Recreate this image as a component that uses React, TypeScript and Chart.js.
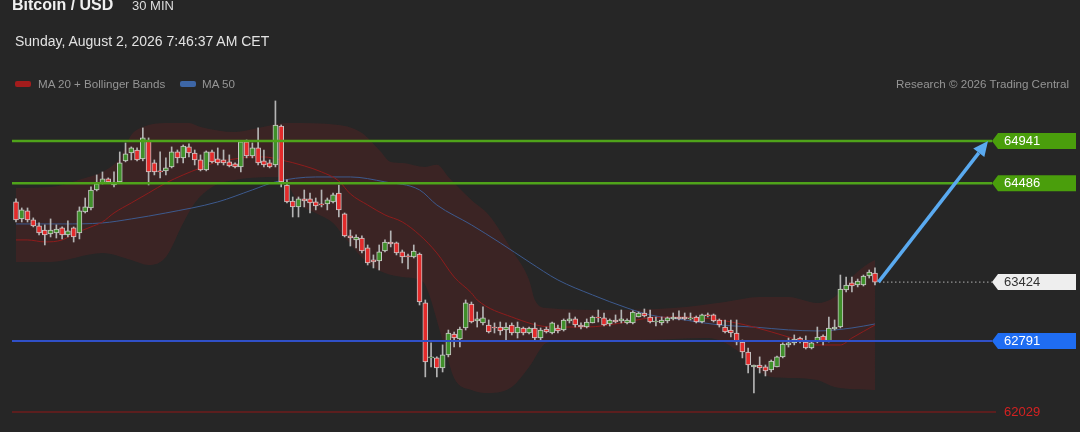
import React, { useEffect, useRef } from "react";
import { Chart, registerables } from "chart.js";

Chart.register(...registerables);

// ---------- DATA ----------
const OPEN = [
  64286, 64103, 64189, 64092, 64028, 63984, 63942, 63952, 64006, 63931,
  64006, 63952, 64178, 64221, 64414, 64490, 64533, 64468, 64500, 64727,
  64812, 64844, 64748, 64941, 64705, 64619, 64619, 64662, 64823, 64759,
  64877, 64812, 64737, 64629, 64823, 64748, 64737, 64716, 64694, 64662,
  64931, 64780, 64866, 64727, 64705, 64683, 65102, 64468, 64296, 64232,
  64318, 64318, 64286, 64264, 64264, 64286, 64382, 64157, 63920, 63877,
  63898, 63791, 63662, 63651, 63758, 63855, 63845, 63748, 63705, 63694,
  63726, 63200, 62609, 62609, 62501, 62641, 62866, 62812, 62931, 63189,
  63006, 62985, 62963, 62941, 62941, 62909, 62963, 62877, 62931, 62877,
  62931, 62823, 62920, 62877, 62931, 62909, 63006, 63028, 62963, 62941,
  62985, 63049, 63039, 62974, 63017, 63006, 62985, 62985, 63049, 63092,
  63049, 62995, 62985, 63006, 63028, 63049, 63049, 63028, 63049, 62995,
  63071, 63071, 63017, 62941, 62909, 62877, 62780, 62673, 62512, 62533,
  62512, 62479, 62512, 62620, 62749, 62771, 62823, 62780, 62716, 62780,
  62845, 62791, 62920, 62941, 63339, 63415, 63393, 63393, 63490, 63522,
];
const HIGH = [
  64318, 64221, 64221, 64114, 64060, 64039, 64103, 64039, 64017, 64082,
  64017, 64232, 64328, 64447, 64576, 64608, 64544, 64608, 64823, 64920,
  64877, 64866, 65081, 64974, 64737, 64823, 64759, 64877, 64844, 64898,
  64909, 64844, 64791, 64834, 64844, 64866, 64844, 64791, 64705, 64941,
  64952, 64920, 65081, 64844, 64737, 65371, 65113, 64522, 64339, 64339,
  64414, 64382, 64328, 64414, 64328, 64382, 64468, 64167, 63984, 63931,
  63920, 63823, 63716, 63823, 63877, 63974, 63855, 63769, 63726, 63823,
  63737, 63232, 62771, 62620, 62749, 62909, 62888, 62941, 63232, 63210,
  63103, 63157, 63017, 62985, 62995, 62985, 62985, 62995, 62941, 62941,
  62985, 62931, 62941, 62995, 62963, 63028, 63092, 63049, 62985, 63028,
  63060, 63124, 63092, 63028, 63071, 63124, 63028, 63114, 63103, 63135,
  63124, 63049, 63049, 63049, 63092, 63114, 63092, 63092, 63060, 63081,
  63092, 63081, 63028, 63017, 63017, 63017, 62802, 62716, 62533, 62620,
  62533, 62587, 62630, 62771, 62823, 62856, 62834, 62845, 62780, 62941,
  62856, 63049, 63017, 63500, 63479, 63479, 63457, 63500, 63554, 63576,
];
const LOW = [
  64070, 64070, 64070, 64017, 63931, 63823, 63909, 63898, 63888, 63909,
  63855, 63888, 64167, 64200, 64404, 64479, 64490, 64447, 64490, 64716,
  64737, 64727, 64727, 64468, 64576, 64544, 64576, 64651, 64705, 64705,
  64769, 64683, 64619, 64619, 64705, 64683, 64683, 64662, 64651, 64608,
  64759, 64759, 64683, 64662, 64651, 64662, 64447, 64275, 64124, 64124,
  64232, 64167, 64200, 64232, 64200, 64275, 64124, 63909, 63812, 63791,
  63737, 63608, 63576, 63554, 63748, 63802, 63716, 63630, 63565, 63683,
  63178, 62405, 62512, 62405, 62458, 62620, 62726, 62726, 62909, 62985,
  62941, 62963, 62877, 62877, 62856, 62802, 62856, 62823, 62856, 62866,
  62802, 62802, 62877, 62866, 62877, 62898, 62985, 62941, 62920, 62931,
  62985, 62995, 62952, 62952, 62985, 62985, 62974, 62974, 63049, 63049,
  62985, 62952, 62963, 62985, 63017, 63017, 63017, 63017, 62985, 62985,
  63049, 62995, 62941, 62877, 62834, 62749, 62609, 62447, 62232, 62447,
  62415, 62458, 62512, 62609, 62726, 62749, 62771, 62705, 62705, 62771,
  62749, 62780, 62909, 62931, 63318, 63318, 63372, 63382, 63468, 63393,
];
const CLOSE = [
  64092, 64200, 64092, 64028, 63952, 63931, 63984, 63995, 63931, 63974,
  63909, 64189, 64232, 64414, 64479, 64533, 64500, 64500, 64705, 64802,
  64866, 64737, 64974, 64608, 64608, 64608, 64651, 64823, 64759, 64887,
  64812, 64737, 64629, 64823, 64716, 64705, 64705, 64672, 64662, 64931,
  64780, 64866, 64705, 64683, 64662, 65113, 64500, 64286, 64232, 64318,
  64296, 64275, 64243, 64254, 64307, 64361, 64200, 63920, 63898, 63909,
  63758, 63630, 63641, 63748, 63855, 63834, 63737, 63694, 63694, 63758,
  63210, 62566, 62620, 62501, 62641, 62877, 62823, 62920, 63200, 62995,
  63028, 63039, 62888, 62931, 62898, 62941, 62877, 62941, 62877, 62931,
  62823, 62909, 62888, 62985, 62898, 63017, 63028, 62963, 62941, 62995,
  63049, 63039, 62963, 63017, 62995, 63028, 63017, 63103, 63092, 63060,
  62995, 63006, 63017, 63039, 63049, 63028, 63028, 63039, 62995, 63071,
  63060, 63006, 62963, 62888, 62877, 62780, 62673, 62533, 62533, 62501,
  62469, 62576, 62620, 62759, 62771, 62812, 62791, 62716, 62771, 62834,
  62791, 62931, 62941, 63350, 63393, 63382, 63436, 63490, 63533, 63424,
];

// [candle index, price]
const MA20 = [
  [0, 63877], [2, 63877], [5, 63856], [8, 63877], [10, 63942], [13, 64017],
  [15, 64071], [17, 64167], [20, 64275], [23, 64382], [26, 64490], [29, 64576],
  [32, 64651], [35, 64716], [38, 64748], [41, 64769], [43, 64769], [46, 64737],
  [50, 64673], [53, 64608], [56, 64511], [58, 64372], [61, 64253], [64, 64146],
  [67, 64071], [70, 63931], [73, 63737], [76, 63479], [79, 63307], [80, 63232],
  [86, 63049], [93, 62941], [99, 62941], [105, 62985], [110, 63039], [116, 63049],
  [122, 63017], [128, 62941], [134, 62834], [139, 62748], [143, 62748], [145, 62823],
  [149, 62963],
];
const MA50 = [
  [0, 64049], [8, 64049], [15, 64060], [20, 64103], [26, 64167], [35, 64286],
  [41, 64415], [45, 64501], [52, 64554], [58, 64554], [64, 64501], [70, 64415],
  [73, 64253], [79, 64039], [84, 63845], [89, 63641], [94, 63447], [100, 63286],
  [106, 63146], [110, 63071], [116, 63017], [122, 62963], [128, 62941], [134, 62910],
  [139, 62899], [145, 62931], [149, 62974],
];
const BB_UPPER = [
  [0, 64436], [6, 64447], [12, 64544], [15, 64608], [18, 64759], [20, 65006],
  [22, 65092], [26, 65135], [30, 65135], [32, 65092], [38, 65038], [42, 65081],
  [47, 65135], [56, 65113], [60, 65027], [63, 64844], [65, 64716], [67, 64705],
  [71, 64662], [73, 64684], [75, 64554], [79, 64307], [82, 64146], [86, 63770],
  [89, 63447], [90, 63232], [92, 63146], [103, 63124], [114, 63146], [123, 63211],
  [129, 63264], [134, 63264], [139, 63200], [142, 63264], [145, 63479], [148, 63630],
  [149, 63662],
];
const BB_LOWER = [
  [0, 63641], [6, 63641], [15, 63737], [20, 63662], [23, 63608], [26, 63694],
  [29, 64060], [31, 64275], [34, 64447], [38, 64522], [44, 64554], [46, 64554],
  [47, 64490], [49, 64275], [52, 64167], [55, 64060], [57, 63909], [61, 63630],
  [64, 63522], [67, 63479], [70, 63447], [71, 63393], [74, 62802], [76, 62394],
  [79, 62265], [82, 62232], [86, 62297], [89, 62512], [92, 62770], [96, 62802],
  [108, 62802], [120, 62824], [125, 62694], [128, 62512], [131, 62404], [134, 62394],
  [139, 62372], [142, 62297], [149, 62264],
];

const RESISTANCE_LEVELS = [64941, 64486];
const LAST_PRICE = 63424;
const SUPPORT_LEVEL = 62791;
const LOW_LEVEL = 62029;
const ARROW_TARGET = 64941;

const TITLE = "Bitcoin / USD";
const TIMEFRAME = "30 MIN";
const DATE_TEXT = "Sunday, August 2, 2026 7:46:37 AM CET";
const LEGEND_MA20 = "MA 20 + Bollinger Bands";
const LEGEND_MA50 = "MA 50";
const CREDIT = "Research © 2026 Trading Central";

// ---------- STYLE ----------
const BG = "#262626";
const UP = "#3f8f2a";
const DOWN = "#e32b2b";
const FONT = '"Liberation Sans", Arial, sans-serif';

const toPts = (arr: number[][]) => arr.map(([x, y]) => ({ x, y }));

function drawTag(ctx: CanvasRenderingContext2D, tipX: number, yc: number, right: number, fill: string, textColor: string, text: string) {
  const h = 8;
  ctx.beginPath();
  ctx.moveTo(tipX, yc);
  ctx.lineTo(tipX + 6, yc - h);
  ctx.lineTo(right, yc - h);
  ctx.lineTo(right, yc + h);
  ctx.lineTo(tipX + 6, yc + h);
  ctx.closePath();
  ctx.fillStyle = fill;
  ctx.fill();
  ctx.fillStyle = textColor;
  ctx.font = `13px ${FONT}`;
  ctx.textBaseline = "middle";
  ctx.textAlign = "left";
  ctx.fillText(text, tipX + 12, yc + 0.5);
}

const overlayPlugin = {
  id: "overlay",
  afterDatasetsDraw(chart: any) {
    const { ctx, chartArea, scales } = chart;
    const xs = scales.x;
    const ys = scales.y;
    const left = chartArea.left;
    const right = chartArea.right;
    const tagRight = right + 84;
    ctx.save();

    // low level line (dark red)
    let yv = ys.getPixelForValue(LOW_LEVEL);
    ctx.strokeStyle = "#6e1d1d";
    ctx.lineWidth = 1.5;
    ctx.beginPath();
    ctx.moveTo(left, yv);
    ctx.lineTo(right + 4, yv);
    ctx.stroke();
    ctx.fillStyle = "#d42222";
    ctx.font = `13px ${FONT}`;
    ctx.textBaseline = "middle";
    ctx.fillText(String(LOW_LEVEL), right + 12, yv + 0.5);

    // support (blue)
    yv = ys.getPixelForValue(SUPPORT_LEVEL);
    ctx.strokeStyle = "#3050c8";
    ctx.lineWidth = 2;
    ctx.beginPath();
    ctx.moveTo(left, yv);
    ctx.lineTo(right, yv);
    ctx.stroke();
    drawTag(ctx, right, yv, tagRight, "#1f6df2", "#ffffff", String(SUPPORT_LEVEL));

    // resistances (green)
    RESISTANCE_LEVELS.forEach((lv) => {
      const yy = ys.getPixelForValue(lv);
      ctx.strokeStyle = "#4fa31a";
      ctx.lineWidth = 2.5;
      ctx.beginPath();
      ctx.moveTo(left, yy);
      ctx.lineTo(right, yy);
      ctx.stroke();
      drawTag(ctx, right, yy, tagRight, "#4a9e0c", "#ffffff", String(lv));
    });

    // last price dotted line
    const lastIdx = CLOSE.length - 1;
    yv = ys.getPixelForValue(LAST_PRICE);
    const xStart = xs.getPixelForValue(lastIdx + 0.7);
    ctx.strokeStyle = "#b0b0b0";
    ctx.lineWidth = 1;
    ctx.setLineDash([1.5, 2.5]);
    ctx.beginPath();
    ctx.moveTo(xStart, yv);
    ctx.lineTo(right, yv);
    ctx.stroke();
    ctx.setLineDash([]);
    drawTag(ctx, right, yv, tagRight, "#eeeeee", "#333333", String(LAST_PRICE));

    // arrow
    const ax0 = xs.getPixelForValue(lastIdx + 0.6);
    const ay0 = ys.getPixelForValue(LAST_PRICE);
    const ax1 = right - 4;
    const ay1 = ys.getPixelForValue(ARROW_TARGET);
    const ang = Math.atan2(ay1 - ay0, ax1 - ax0);
    const headLen = 15;
    const headW = 7;
    const bx = ax1 - headLen * Math.cos(ang);
    const by = ay1 - headLen * Math.sin(ang);
    ctx.strokeStyle = "#5aaaf0";
    ctx.fillStyle = "#5aaaf0";
    ctx.lineWidth = 3.5;
    ctx.beginPath();
    ctx.moveTo(ax0, ay0);
    ctx.lineTo(bx, by);
    ctx.stroke();
    ctx.beginPath();
    ctx.moveTo(ax1, ay1);
    ctx.lineTo(bx + headW * Math.sin(ang), by - headW * Math.cos(ang));
    ctx.lineTo(bx - headW * Math.sin(ang), by + headW * Math.cos(ang));
    ctx.closePath();
    ctx.fill();

    ctx.restore();
  },
};

export default function App() {
  const canvasRef = useRef<HTMLCanvasElement | null>(null);

  useEffect(() => {
    const canvas = canvasRef.current;
    if (!canvas) return;
    const n = CLOSE.length;
    const idx = Array.from({ length: n }, (_, i) => i);
    const colors = idx.map((i) => (CLOSE[i] < OPEN[i] ? DOWN : UP));
    const bodies = idx.map((i) => ({ x: i, y: [OPEN[i], CLOSE[i]] }));
    const wicks = idx.map((i) => ({ x: i, y: [LOW[i], HIGH[i]] }));

    const chart = new Chart(canvas, {
      type: "bar",
      data: {
        datasets: [
          {
            type: "bar",
            data: bodies as any,
            backgroundColor: colors,
            borderColor: "rgba(215,215,215,0.9)",
            borderWidth: 1,
            borderSkipped: false,
            barThickness: 5,
            grouped: false,
            order: 1,
          } as any,
          {
            type: "bar",
            data: wicks as any,
            backgroundColor: "#b4b4b4",
            borderWidth: 0,
            barThickness: 1,
            grouped: false,
            order: 2,
          } as any,
          {
            type: "line",
            data: toPts(MA20) as any,
            borderColor: "#8e1c1c",
            borderWidth: 1,
            pointRadius: 0,
            cubicInterpolationMode: "monotone",
            fill: false,
            order: 3,
          } as any,
          {
            type: "line",
            data: toPts(MA50) as any,
            borderColor: "#3d5a8e",
            borderWidth: 1,
            pointRadius: 0,
            cubicInterpolationMode: "monotone",
            fill: false,
            order: 3,
          } as any,
          {
            type: "line",
            data: toPts(BB_UPPER) as any,
            borderColor: "rgba(0,0,0,0)",
            borderWidth: 0,
            pointRadius: 0,
            cubicInterpolationMode: "monotone",
            fill: false,
            order: 4,
          } as any,
          {
            type: "line",
            data: toPts(BB_LOWER) as any,
            borderColor: "rgba(0,0,0,0)",
            borderWidth: 0,
            pointRadius: 0,
            cubicInterpolationMode: "monotone",
            fill: "-1",
            backgroundColor: "rgba(135,30,30,0.22)",
            order: 4,
          } as any,
        ],
      },
      options: {
        animation: false,
        responsive: false,
        events: [],
        layout: { padding: { left: 12, right: 88, top: 95, bottom: 7 } },
        plugins: {
          legend: { display: false },
          tooltip: { enabled: false },
        },
        scales: {
          x: {
            type: "linear",
            display: false,
            min: -0.694,
            max: 169.3,
            offset: false,
            grid: { display: false },
          },
          y: {
            type: "linear",
            display: false,
            min: 61888,
            max: 65435,
            grid: { display: false },
          },
        },
      },
      plugins: [overlayPlugin],
    });
    return () => chart.destroy();
  }, []);

  const textBase: React.CSSProperties = {
    position: "absolute",
    fontFamily: FONT,
    whiteSpace: "nowrap",
    margin: 0,
  };

  return (
    <div
      style={{
        position: "fixed",
        left: 0,
        top: 0,
        width: 1080,
        height: 432,
        background: BG,
        overflow: "hidden",
      }}
    >
      <canvas ref={canvasRef} width={1080} height={432} style={{ position: "absolute", left: 0, top: 0 }} />
      <div style={{ ...textBase, left: 12, top: -3, fontSize: 16, lineHeight: "16px", fontWeight: 700, color: "#f0f0f0" }}>
        {TITLE}
      </div>
      <div style={{ ...textBase, left: 132, top: -1, fontSize: 13, lineHeight: "13px", color: "#dddddd" }}>{TIMEFRAME}</div>
      <div style={{ ...textBase, left: 15, top: 34, fontSize: 14, lineHeight: "14px", color: "#e2e2e2" }}>{DATE_TEXT}</div>
      <div style={{ position: "absolute", left: 15, top: 81, width: 16, height: 6, borderRadius: 2, background: "#a31c1c" }} />
      <div style={{ ...textBase, left: 38, top: 78, fontSize: 11.6, lineHeight: "12px", color: "#959595" }}>{LEGEND_MA20}</div>
      <div style={{ position: "absolute", left: 180, top: 81, width: 16, height: 6, borderRadius: 2, background: "#3d66a6" }} />
      <div style={{ ...textBase, left: 202, top: 78, fontSize: 11.6, lineHeight: "12px", color: "#959595" }}>{LEGEND_MA50}</div>
      <div style={{ ...textBase, right: 11, top: 78, fontSize: 11.6, lineHeight: "12px", color: "#959595" }}>{CREDIT}</div>
    </div>
  );
}
